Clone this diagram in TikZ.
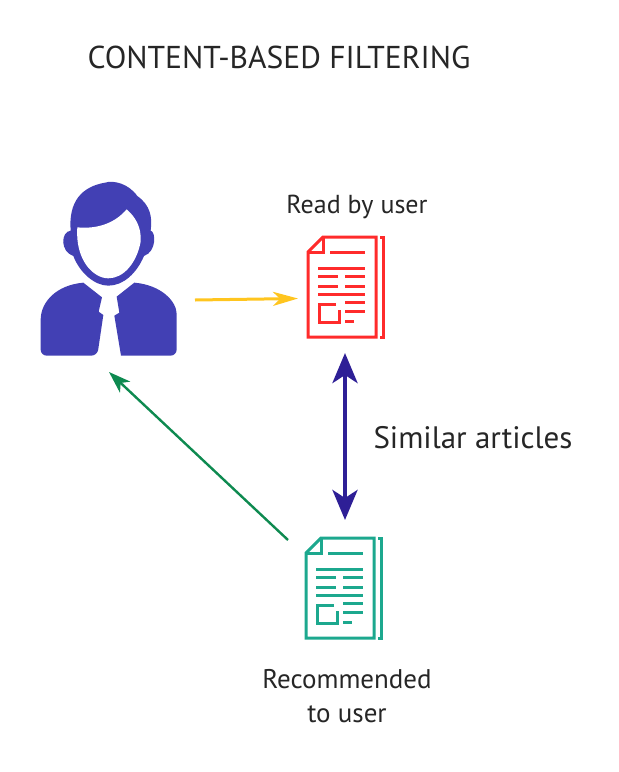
\documentclass[tikz,border=0pt]{standalone}
\usepackage{fontspec}
\setmainfont{PT Sans}
\usetikzlibrary{arrows.meta}
\definecolor{userblue}{HTML}{4240B4}
\definecolor{readred}{HTML}{FF2B2B}
\definecolor{recteal}{HTML}{1CA88E}
\definecolor{simpurple}{HTML}{2E1F96}
\definecolor{readyellow}{HTML}{FFC51F}
\definecolor{recgreen}{HTML}{0E8A50}
\tikzset{
  label text/.style={align=center,inner sep=0pt,text=black!85},
  article/.pic={
    \draw (0,15) -- (15,0) -- (68,0) -- (68,100) -- (0,100) -- cycle;
    \draw (15,0) -- (15,15) -- (0,15);
    \draw (22,15) -- (57,15);
    \draw (10,31) -- (57,31);
    \draw (10,39) -- (30,39) (37,39) -- (57,39);
    \draw (10,49) -- (30,49) (37,49) -- (57,49);
    \draw (10,57) -- (57,57);
    \draw (28,67) -- (11,67) -- (11,85) -- (31,85) -- (31,73);
    \draw (37,65) -- (57,65);
    \draw (37,74) -- (57,74);
    \draw (37,84) -- (46,84);
    \draw (72,0) -- (75,0) -- (75,100) -- (72,100);
  }
}
\begin{document}
\begin{tikzpicture}[x=1pt,y=-1pt,line width=2.4pt]
\useasboundingbox (0,0) rectangle (619,772);
\node[label text,font=\fontsize{31.6}{38}\selectfont] (title) at (279,57) {CONTENT-BASED FILTERING};
% user
\begin{scope}[shift={(20,170)},x=0.3333pt,y=-0.3333pt]
  \fill[userblue] (152,182) .. controls (122,185) and (120,245) .. (160,258)
    .. controls (180,310) and (225,347) .. (265,347)
    .. controls (310,347) and (350,310) .. (372,258)
    .. controls (410,245) and (408,185) .. (392,182)
    .. controls (398,140) and (390,105) .. (352,78)
    .. controls (325,40) and (280,30) .. (255,38)
    .. controls (185,50) and (145,95) .. (152,182) -- cycle;
  \fill[white] (172,172) .. controls (230,178) and (285,160) .. (320,118)
    .. controls (345,140) and (365,170) .. (362,215)
    .. controls (350,280) and (310,325) .. (265,325)
    .. controls (220,325) and (165,270) .. (172,172) -- cycle;
  \fill[userblue] (190,338) .. controls (110,345) and (62,395) .. (62,450)
    [rounded corners=6pt] -- (62,557) -- (232,557) [sharp corners] -- (250,435) -- (236,425) -- (246,382) -- cycle;
  \fill[userblue] (343,338) -- (290,380) -- (298,428) -- (283,437) -- (303,557)
    [rounded corners=6pt] -- (470,557) -- (470,450) [sharp corners] .. controls (470,395) and (425,345) .. (343,338) -- cycle;
\end{scope}
% articles
\pic[readred,line width=3pt] at (308,237) {article};
\pic[recteal,line width=3pt] at (306,538) {article};
\node[label text,font=\fontsize{26}{30}\selectfont] (read) at (357,207) {Read by user};
\node[label text,font=\fontsize{31}{36}\selectfont] (similar) at (473,438) {Similar articles};
\node[label text,font=\fontsize{27}{34}\selectfont] (recommended) at (347,696) {Recommended\\to user};
% arrows
\coordinate (userout) at (195,300);
\coordinate (readin) at (298,298.5);
\coordinate (readbottom) at (345,353);
\coordinate (recommendedtop) at (345,520);
\coordinate (recommendedout) at (288,540);
\coordinate (userin) at (109,372);
\draw[readyellow,line width=3pt,-{Stealth[length=25pt,width=14pt,inset=7pt]}] (userout) -- (readin);
\draw[simpurple,line width=4.5pt,{Stealth[length=30pt,width=25pt,inset=8pt]}-{Stealth[length=30pt,width=25pt,inset=8pt]}] (readbottom) -- (recommendedtop);
\draw[recgreen,-{Stealth[length=22pt,width=15pt,inset=6pt]}] (recommendedout) -- (userin);
\end{tikzpicture}
\end{document}
